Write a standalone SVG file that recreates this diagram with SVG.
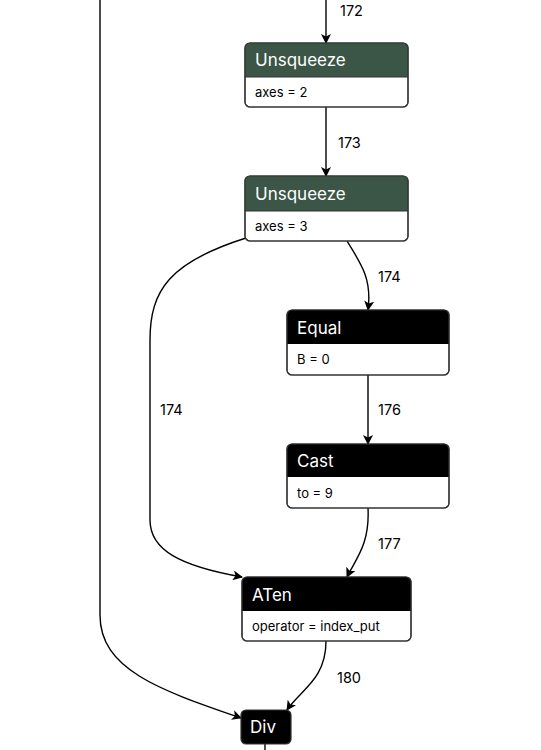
<svg xmlns="http://www.w3.org/2000/svg" width="541" height="750" viewBox="0 0 541 750">
<style>
.hdr{font-family:Inter,"Noto Sans",sans-serif;font-size:17px;fill:#fff}
.attr{font-family:Inter,"Noto Sans",sans-serif;font-size:13px;fill:#000}
.lbl{font-family:Inter,"Noto Sans",sans-serif;font-size:14.5px;fill:#000}
.box{fill:#fff;stroke:#333;stroke-width:1.2}
.e{fill:none;stroke:#000;stroke-width:1.4}
.ea{fill:none;stroke:#000;stroke-width:1.4;marker-end:url(#ah)}
</style>
<defs>
<marker id="ah" viewBox="0 0 10 10" refX="9" refY="5" markerWidth="10" markerHeight="10" markerUnits="userSpaceOnUse" orient="auto">
<path d="M0,0 L10,5 L0,10 L2.5,5 Z" fill="#000"/>
</marker>
</defs>
<rect width="541" height="750" fill="#fff"/>
<g id="edges">
<path class="ea" d="M326,0 L326,43"/>
<text class="lbl" x="340" y="16">172</text>
<path class="ea" d="M326,107 L326,176"/>
<text class="lbl" x="338" y="148">173</text>
<path class="ea" d="M347,241 C362,265 372,280 368,310"/>
<text class="lbl" x="378" y="282">174</text>
<path class="ea" d="M246,238 C170,262 150,290 150,340 L150,520 C150,550 180,566 242,577"/>
<text class="lbl" x="160" y="415">174</text>
<path class="ea" d="M368,375 L368,444"/>
<text class="lbl" x="378" y="415">176</text>
<path class="ea" d="M368,508 C370,545 355,560 347,577"/>
<text class="lbl" x="378" y="549">177</text>
<path class="ea" d="M326,641 C326,680 300,690 287,710"/>
<text class="lbl" x="337" y="683">180</text>
<path class="ea" d="M100,0 L100,615 C100,670 160,690 241,718"/>
<path class="e" d="M265,744 L265,750"/>
</g>
<g id="unsqueeze1">
<rect class="box" x="245" y="43" width="163" height="64" rx="5"/>
<path d="M250,43 H403 A5,5 0 0 1 408,48 V77 H245 V48 A5,5 0 0 1 250,43 Z" fill="#3b5647"/>
<rect x="245" y="43" width="163" height="64" rx="5" fill="none" stroke="#333" stroke-width="1.2"/>
<line x1="245" y1="77" x2="408" y2="77" stroke="#333"/>
<text class="hdr" x="255" y="66">Unsqueeze</text>
<text class="attr" x="255" y="97">axes = 2</text>
</g>
<g id="unsqueeze2">
<rect class="box" x="245" y="176" width="163" height="65" rx="5"/>
<path d="M250,176 H403 A5,5 0 0 1 408,181 V211 H245 V181 A5,5 0 0 1 250,176 Z" fill="#3b5647"/>
<rect x="245" y="176" width="163" height="65" rx="5" fill="none" stroke="#333" stroke-width="1.2"/>
<line x1="245" y1="211" x2="408" y2="211" stroke="#333"/>
<text class="hdr" x="255" y="200">Unsqueeze</text>
<text class="attr" x="255" y="231">axes = 3</text>
</g>
<g id="equal">
<rect class="box" x="287" y="310" width="162" height="65" rx="5"/>
<path d="M292,310 H444 A5,5 0 0 1 449,315 V344 H287 V315 A5,5 0 0 1 292,310 Z" fill="#000"/>
<rect x="287" y="310" width="162" height="65" rx="5" fill="none" stroke="#333" stroke-width="1.2"/>
<text class="hdr" x="297" y="334">Equal</text>
<text class="attr" x="297" y="364">B = 0</text>
</g>
<g id="cast">
<rect class="box" x="287" y="444" width="162" height="64" rx="5"/>
<path d="M292,444 H444 A5,5 0 0 1 449,449 V477 H287 V449 A5,5 0 0 1 292,444 Z" fill="#000"/>
<rect x="287" y="444" width="162" height="64" rx="5" fill="none" stroke="#333" stroke-width="1.2"/>
<text class="hdr" x="297" y="467">Cast</text>
<text class="attr" x="297" y="498">to = 9</text>
</g>
<g id="aten">
<rect class="box" x="242" y="577" width="169" height="64" rx="5"/>
<path d="M247,577 H406 A5,5 0 0 1 411,582 V611 H242 V582 A5,5 0 0 1 247,577 Z" fill="#000"/>
<rect x="242" y="577" width="169" height="64" rx="5" fill="none" stroke="#333" stroke-width="1.2"/>
<text class="hdr" x="252" y="601">ATen</text>
<text class="attr" x="252" y="631">operator = index_put</text>
</g>
<g id="div">
<rect x="241" y="710" width="50" height="34" rx="5" fill="#000" stroke="#333" stroke-width="1.2"/>
<text class="hdr" x="250" y="733">Div</text>
</g>
</svg>
